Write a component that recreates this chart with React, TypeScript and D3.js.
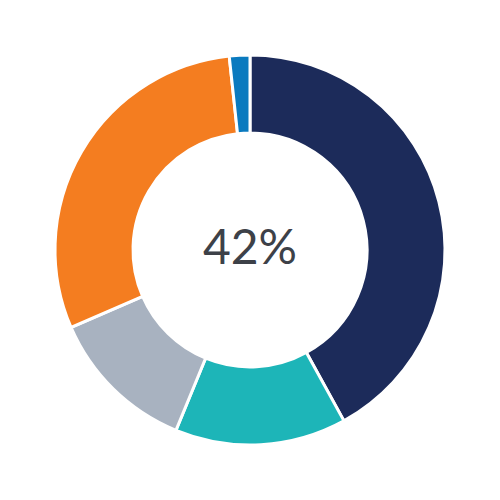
import React from 'react';
import * as d3 from 'd3';

const categories = ['A', 'B', 'C', 'D', 'E'];
const values = [42, 14.2, 12.3, 29.8, 1.7];
const colors = ['#1c2b5a', '#1db5b8', '#a8b2c0', '#f47d20', '#0a7abf'];
const centerLabel = '42%';

const width = 500;
const height = 500;
const outerRadius = 195;
const innerRadius = 117;

const App: React.FC = () => {
  const pie = d3.pie<number>().sort(null).value(d => d);
  const arc = d3.arc<d3.PieArcDatum<number>>()
    .innerRadius(innerRadius)
    .outerRadius(outerRadius);
  const arcs = pie(values);

  return (
    <svg
      width={width}
      height={height}
      style={{ position: 'absolute', left: 0, top: 0, background: '#fff' }}
    >
      <g transform={`translate(${width / 2},${height / 2})`}>
        {arcs.map((a, i) => (
          <path
            key={categories[i]}
            d={arc(a) || ''}
            fill={colors[i]}
            stroke="#fff"
            strokeWidth={3}
          />
        ))}
        <text
          textAnchor="middle"
          y={-3}
          dy="0.35em"
          fill="#3d4148"
          style={{ fontFamily: 'Lato, sans-serif', fontSize: 48, fontWeight: 400 }}
        >
          {centerLabel}
        </text>
      </g>
    </svg>
  );
};

export default App;
